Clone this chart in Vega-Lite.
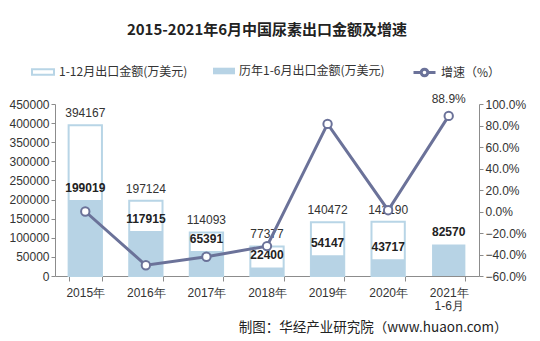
{
  "$schema": "https://vega.github.io/schema/vega-lite/v6.json",
  "width": 424,
  "height": 172,
  "autosize": {"type": "none"},
  "padding": {"left": 55, "top": 104, "right": 61, "bottom": 65},
  "background": "white",
  "title": {
    "text": "2015-2021年6月中国尿素出口金额及增速",
    "fontSize": 15,
    "font": "Noto Sans CJK SC",
    "fontWeight": "bold",
    "color": "#222222",
    "anchor": "middle",
    "frame": "group",
    "offset": 22
  },
  "config": {
    "view": {"stroke": null},
    "axis": {
      "labelFont": "Liberation Sans",
      "labelFontSize": 12,
      "labelColor": "#333333",
      "domainColor": "#8c8c8c",
      "tickColor": "#8c8c8c",
      "grid": false,
      "tickSize": 4
    },
    "legend": {
      "labelFont": "Noto Sans CJK SC",
      "labelFontSize": 12,
      "labelColor": "#333333",
      "title": null
    },
    "text": {"font": "Liberation Sans", "fontSize": 12, "color": "#333333"}
  },
  "data": {
    "values": [
      {"year": "2015年", "series": "1-12月出口金额(万美元)", "value": 394167},
      {"year": "2016年", "series": "1-12月出口金额(万美元)", "value": 197124},
      {"year": "2017年", "series": "1-12月出口金额(万美元)", "value": 114093},
      {"year": "2018年", "series": "1-12月出口金额(万美元)", "value": 77377},
      {"year": "2019年", "series": "1-12月出口金额(万美元)", "value": 140472},
      {"year": "2020年", "series": "1-12月出口金额(万美元)", "value": 142190},
      {"year": "2015年", "series": "历年1-6月出口金额(万美元)", "value": 199019},
      {"year": "2016年", "series": "历年1-6月出口金额(万美元)", "value": 117915},
      {"year": "2017年", "series": "历年1-6月出口金额(万美元)", "value": 65391},
      {"year": "2018年", "series": "历年1-6月出口金额(万美元)", "value": 22400},
      {"year": "2019年", "series": "历年1-6月出口金额(万美元)", "value": 54147},
      {"year": "2020年", "series": "历年1-6月出口金额(万美元)", "value": 43717},
      {"year": "2021年1-6月", "series": "历年1-6月出口金额(万美元)", "value": 82570},
      {"year": "2015年", "series": "增速（%）", "value": 0.0},
      {"year": "2016年", "series": "增速（%）", "value": -0.5},
      {"year": "2017年", "series": "增速（%）", "value": -0.421},
      {"year": "2018年", "series": "增速（%）", "value": -0.322},
      {"year": "2019年", "series": "增速（%）", "value": 0.815},
      {"year": "2020年", "series": "增速（%）", "value": 0.012},
      {"year": "2021年1-6月", "series": "增速（%）", "value": 0.889}
    ]
  },
  "encoding": {
    "x": {
      "field": "year",
      "type": "nominal",
      "sort": null,
      "scale": {"paddingInner": 0.45, "paddingOuter": 0.225},
      "axis": {
        "title": "制图：华经产业研究院（www.huaon.com）",
        "titleFont": "Noto Sans CJK SC",
        "titleFontSize": 13.5,
        "titleFontWeight": "normal",
        "titleColor": "#222222",
        "titleAnchor": "end",
        "titleAlign": "right",
        "titleBaseline": "middle",
        "titleX": 452,
        "titleY": 51,
        "labelAngle": 0,
        "labelPadding": 6,
        "labelLineHeight": 13,
        "bandPosition": 0,
        "tickBand": "extent",
        "tickSize": 5,
        "labelExpr": "datum.value == '2021年1-6月' ? ['2021年', '1-6月'] : datum.value"
      }
    }
  },
  "layer": [
    {
      "encoding": {
        "y": {
          "field": "value",
          "type": "quantitative",
          "scale": {"domain": [0, 450000], "nice": false},
          "axis": {
            "title": null,
            "values": [0, 50000, 100000, 150000, 200000, 250000, 300000, 350000, 400000, 450000],
            "format": "d"
          }
        }
      },
      "layer": [
        {
          "transform": [{"filter": "datum.series == '1-12月出口金额(万美元)'"}],
          "mark": {"type": "bar", "fill": "white", "strokeWidth": 2},
          "encoding": {
            "stroke": {
              "field": "series",
              "type": "nominal",
              "scale": {"range": ["#b8d5e6"]},
              "legend": {
                "orient": "none",
                "legendX": -24,
                "legendY": -44,
                "symbolType": "M-1,-0.25H1V0.25H-1Z",
                "symbolSize": 484,
                "symbolStrokeWidth": 2,
                "symbolFillColor": "white",
                "labelOffset": 4,
                "encode": {"symbols": {"update": {"fill": {"value": "white"}, "stroke": {"value": "#b8d5e6"}, "strokeWidth": {"value": 2}}}}
              }
            }
          }
        },
        {
          "transform": [{"filter": "datum.series == '历年1-6月出口金额(万美元)'"}],
          "mark": {"type": "bar"},
          "encoding": {
            "fill": {
              "field": "series",
              "type": "nominal",
              "scale": {"range": ["#b7d3e5"]},
              "legend": {
                "orient": "none",
                "legendX": 158,
                "legendY": -44,
                "symbolType": "M-1,-0.3H1V0.3H-1Z",
                "symbolSize": 484,
                "symbolStrokeWidth": 0,
                "labelOffset": 4
              }
            }
          }
        },
        {
          "transform": [{"filter": "datum.series == '1-12月出口金额(万美元)'"}],
          "mark": {"type": "text", "baseline": "middle", "dy": -12},
          "encoding": {"text": {"field": "value", "type": "quantitative", "format": "d"}}
        },
        {
          "transform": [{"filter": "datum.series == '历年1-6月出口金额(万美元)'"}],
          "mark": {"type": "text", "baseline": "middle", "dy": -12, "fontWeight": "bold", "color": "#222222"},
          "encoding": {"text": {"field": "value", "type": "quantitative", "format": "d"}}
        }
      ]
    },
    {
      "transform": [{"filter": "datum.series == '增速（%）'"}],
      "encoding": {
        "y": {
          "field": "value",
          "type": "quantitative",
          "scale": {"domain": [-0.6, 1.0], "nice": false},
          "axis": {
            "title": null,
            "orient": "right",
            "values": [-0.6, -0.4, -0.2, 0, 0.2, 0.4, 0.6, 0.8, 1.0],
            "format": ".1%"
          }
        }
      },
      "layer": [
        {
          "mark": {"type": "line", "strokeWidth": 3},
          "encoding": {
            "color": {
              "field": "series",
              "type": "nominal",
              "scale": {"range": ["#6b7299"]},
              "legend": {
                "orient": "none",
                "legendX": 357,
                "legendY": -44,
                "symbolType": "M-1,0H-0.3M0.3,0H1M-0.3,0A0.3,0.3,0,1,0,0.3,0A0.3,0.3,0,1,0,-0.3,0",
                "symbolSize": 484,
                "symbolStrokeWidth": 3,
                "labelOffset": 4,
                "encode": {"symbols": {"update": {"fill": {"value": "white"}, "stroke": {"value": "#6b7299"}, "strokeWidth": {"value": 3}}}}
              }
            }
          }
        },
        {
          "mark": {"type": "point", "filled": true, "fill": "white", "stroke": "#6b7299", "strokeWidth": 2, "size": 70, "opacity": 1}
        },
        {
          "transform": [{"filter": "datum.year == '2021年1-6月'"}],
          "mark": {"type": "text", "baseline": "middle", "dy": -17},
          "encoding": {"text": {"field": "value", "type": "quantitative", "format": ".1%"}}
        }
      ]
    }
  ],
  "resolve": {"scale": {"y": "independent"}}
}
